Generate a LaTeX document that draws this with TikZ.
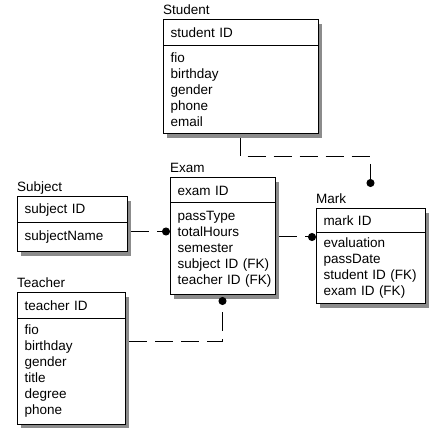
\documentclass[tikz,border=0pt]{standalone}
\usepackage{fontspec}
\setmainfont{Liberation Sans}
\usetikzlibrary{arrows.meta,shadows}

\newcommand\erfnt{\fontsize{13.5}{16}\selectfont\spaceskip=2.6pt\relax}

\tikzset{
  ent/.style={draw, fill=white, line width=1pt, anchor=north west, outer sep=0pt,
    inner xsep=7.5pt, inner ysep=0pt, align=left, font=\erfnt,
    drop shadow={shadow xshift=4pt, shadow yshift=-4pt, fill=black!45, opacity=1}},
  keybox/.style={ent},
  attrbox/.style={ent, anchor=north},
  title/.style={anchor=base west, inner sep=0pt, font=\erfnt},
  rel/.style={line width=1pt, dash pattern=on 18pt off 8pt, -{Circle[length=8pt]}}
}

\begin{document}
\begin{tikzpicture}[x=1pt,y=-1pt]

\useasboundingbox (0,0) rectangle (431,430);

% Student
\node[keybox, text width=140pt, minimum height=26pt] (studentK) at (163,20) {student ID};
\node[attrbox, text width=140pt, minimum height=88pt] (studentA) at (studentK.south)
  {fio\\birthday\\gender\\phone\\email};
\node[title] (studentT) at ([yshift=5pt]studentK.north west) {Student};

% Exam
\node[keybox, text width=90pt, minimum height=25pt] (examK) at (170,178) {exam ID};
\node[attrbox, text width=90pt, minimum height=92pt] (examA) at (examK.south)
  {passType\\totalHours\\semester\\subject~ID~(FK)\\teacher~ID~(FK)};
\node[title] (examT) at ([yshift=5pt]examK.north west) {Exam};

% Subject
\node[keybox, text width=95pt, minimum height=26pt] (subjectK) at (17,197) {subject ID};
\node[attrbox, text width=95pt, minimum height=29pt] (subjectA) at (subjectK.south) {subjectName};
\node[title] (subjectT) at ([yshift=5pt]subjectK.north west) {Subject};

% Mark
\node[keybox, text width=94pt, minimum height=24pt] (markK) at (316,209) {mark ID};
\node[attrbox, text width=94pt, minimum height=71pt] (markA) at (markK.south)
  {evaluation\\passDate\\student~ID~(FK)\\exam~ID~(FK)};
\node[title] (markT) at ([yshift=5pt]markK.north west) {Mark};

% Teacher
\node[keybox, text width=93pt, minimum height=26pt] (teacherK) at (17,293) {teacher ID};
\node[attrbox, text width=93pt, minimum height=105pt] (teacherA) at (teacherK.south)
  {fio\\birthday\\gender\\title\\degree\\phone};
\node[title] (teacherT) at ([yshift=5pt]teacherK.north west) {Teacher};

% relationships
\coordinate (mkIn) at ([yshift=-4pt]markA.north west);
\coordinate (mkTop) at ([yshift=22pt]markK.north);

\draw[rel] ([yshift=-4pt]studentA.south) -- ++(0,19) -| (mkTop);
\draw[rel] ([xshift=4pt,yshift=6pt]subjectA.east) coordinate (sjOut) -- (sjOut -| examA.west);
\draw[rel] (examA.east |- mkIn) ++(4,0) -- (mkIn);
\draw[rel] ([xshift=4pt,yshift=-22pt]teacherA.north east) -| ([yshift=-2pt]examA.south);

\end{tikzpicture}
\end{document}
